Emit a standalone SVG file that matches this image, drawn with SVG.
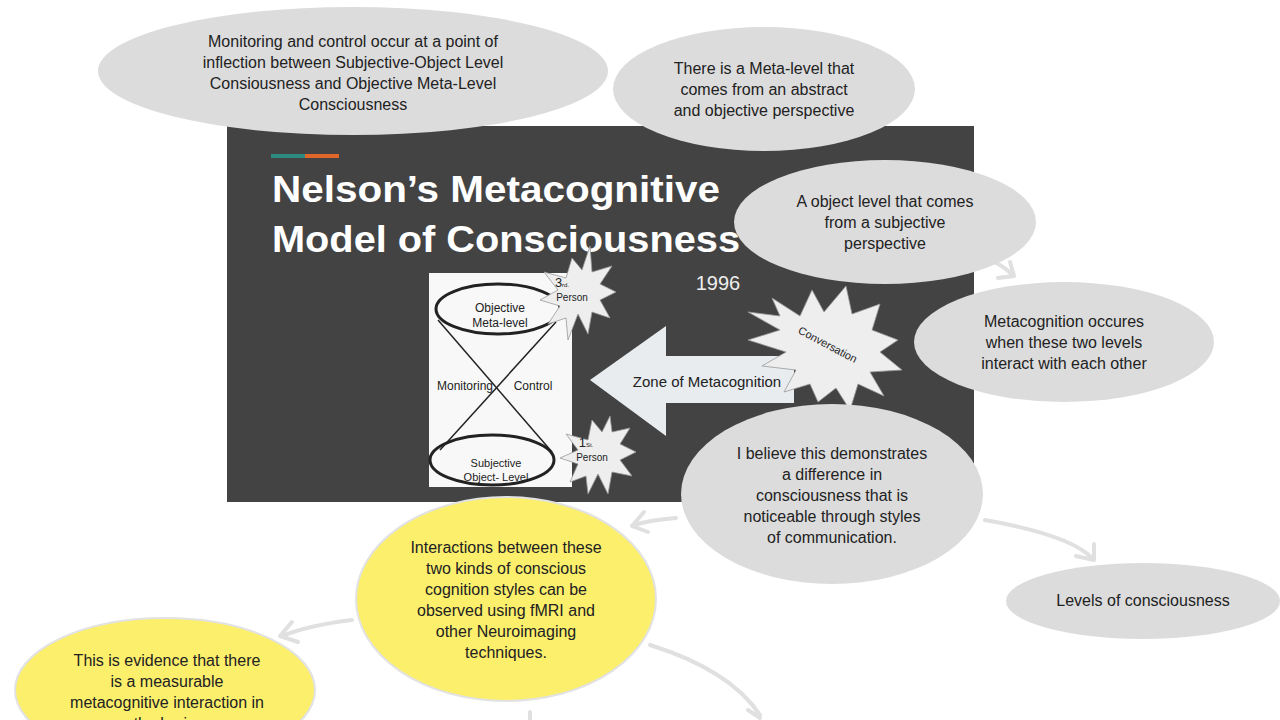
<svg xmlns="http://www.w3.org/2000/svg" width="1280" height="720" viewBox="0 0 1280 720">
<defs>
<style>
text{font-family:"Liberation Sans",Arial,sans-serif;font-size:16px;fill:#222;text-anchor:middle}
.g{fill:#dcdcdc}
.y{fill:#fbef6c;stroke:#e2e2e2;stroke-width:2}
.c{fill:none;stroke:#e0e0e0;stroke-width:4;stroke-linecap:round;stroke-linejoin:round}
.w{fill:#eeeeee;stroke:#999;stroke-width:0.8}
.sm{font-size:12px}
</style>
</defs>
<rect width="1280" height="720" fill="#fff"/>
<g id="slide">
<rect x="227" y="126" width="747" height="376" fill="#434343"/>
<rect x="271" y="154" width="34" height="4" fill="#2e8a7e"/>
<rect x="305" y="154" width="34" height="4" fill="#e0662a"/>
<text x="272" y="202" textLength="448" lengthAdjust="spacingAndGlyphs" style="font-size:37px;font-weight:bold;fill:#fff;text-anchor:start">Nelson’s Metacognitive</text>
<text x="272" y="252" textLength="468" lengthAdjust="spacingAndGlyphs" style="font-size:37px;font-weight:bold;fill:#fff;text-anchor:start">Model of Consciousness</text>
<text x="718" y="290" style="font-size:20px;fill:#eee">1996</text>
<rect x="429" y="273" width="143" height="214" fill="#f8f8f8"/>
<ellipse cx="498" cy="309" rx="62" ry="25" fill="none" stroke="#222" stroke-width="3"/>
<ellipse cx="492" cy="460" rx="62" ry="25" fill="none" stroke="#222" stroke-width="3"/>
<line x1="438" y1="320" x2="552" y2="452" stroke="#222" stroke-width="1.5"/>
<line x1="556" y1="322" x2="440" y2="450" stroke="#222" stroke-width="1.5"/>
<text x="500" y="312" class="sm">Objective</text>
<text x="500" y="327" class="sm">Meta-level</text>
<text x="465" y="390" class="sm">Monitoring</text>
<text x="533" y="390" class="sm">Control</text>
<text x="496" y="467" style="font-size:11px">Subjective</text>
<text x="496" y="481" style="font-size:11px">Object- Level</text>
<polygon class="w" points="572,258 582,270 590,246 592,272 612,266 600,284 616,292 600,300 610,318 592,312 588,334 578,314 568,340 566,318 548,324 560,306 540,300 558,290 544,272 566,278"/>
<text x="562" y="287" style="font-size:13px">3<tspan style="font-size:6px">rd.</tspan></text>
<text x="572" y="301" style="font-size:10px">Person</text>
<polygon class="w" points="592,420 602,432 610,416 612,432 630,428 620,444 636,452 620,460 632,476 612,472 608,494 598,474 588,494 586,476 570,482 578,464 560,458 578,450 566,434 588,440"/>
<text x="586" y="447" style="font-size:13px">1<tspan style="font-size:6px">St.</tspan></text>
<text x="592" y="461" style="font-size:10px">Person</text>
<polygon points="590,380 666,326 666,356 794,356 794,403 666,403 666,436" fill="#e8ecef"/>
<text x="707" y="387" style="font-size:15px">Zone of Metacognition</text>
<polygon class="w" points="772,298 800,316 812,290 824,312 846,286 852,314 880,304 872,330 898,340 880,352 902,370 870,372 884,396 858,384 850,410 836,388 818,402 810,384 784,392 796,370 762,366 786,352 748,340 780,330 748,312 780,316"/>
<text x="826" y="348" transform="rotate(28 826 348)" style="font-size:11px">Conversation</text>
</g>
<g id="connectors">
<path class="c" d="M960,250 Q1000,260 1012,275 M998,278 L1014,276 L1010,262"/>
<path class="c" d="M985,520 Q1070,535 1092,558 M1076,556 L1094,560 L1094,544"/>
<path class="c" d="M676,518 Q650,520 634,525 M644,512 L632,526 L648,532"/>
<path class="c" d="M352,620 Q310,625 282,636 M292,622 L280,636 L298,642"/>
<path class="c" d="M650,645 Q730,670 760,715 M748,710 L760,718"/>
<path class="c" d="M530,712 L530,720"/>
</g>
<g id="n1"><ellipse class="g" cx="353" cy="71" rx="255" ry="64"/>
<text x="353" y="47">Monitoring and control occur at a point of</text>
<text x="353" y="68">inflection between Subjective-Object Level</text>
<text x="353" y="89">Consiousness and Objective Meta-Level</text>
<text x="353" y="110">Consciousness</text></g>
<g id="n2"><ellipse class="g" cx="764" cy="89" rx="151" ry="62"/>
<text x="764" y="74">There is a Meta-level that</text>
<text x="764" y="95">comes from an abstract</text>
<text x="764" y="116">and objective perspective</text></g>
<g id="n3"><ellipse class="g" cx="885" cy="222" rx="151" ry="62"/>
<text x="885" y="207">A object level that comes</text>
<text x="885" y="228">from a subjective</text>
<text x="885" y="249">perspective</text></g>
<g id="n4"><ellipse class="g" cx="1064" cy="342" rx="150" ry="60"/>
<text x="1064" y="327">Metacognition occures</text>
<text x="1064" y="348">when these two levels</text>
<text x="1064" y="369">interact with each other</text></g>
<g id="n5"><ellipse class="g" cx="832" cy="494" rx="151" ry="90"/>
<text x="832" y="459">I believe this demonstrates</text>
<text x="832" y="480">a difference in</text>
<text x="832" y="501">consciousness that is</text>
<text x="832" y="522">noticeable through styles</text>
<text x="832" y="543">of communication.</text></g>
<g id="n6"><ellipse class="g" cx="1143" cy="601" rx="137" ry="38"/>
<text x="1143" y="606">Levels of consciousness</text></g>
<g id="n7"><ellipse class="y" cx="506" cy="599" rx="150" ry="102"/>
<text x="506" y="553">Interactions between these</text>
<text x="506" y="574">two kinds of conscious</text>
<text x="506" y="595">cognition styles can be</text>
<text x="506" y="616">observed using fMRI and</text>
<text x="506" y="637">other Neuroimaging</text>
<text x="506" y="658">techniques.</text></g>
<g id="n8"><ellipse class="y" cx="165" cy="690" rx="150" ry="72"/>
<text x="167" y="666">This is evidence that there</text>
<text x="167" y="687">is a measurable</text>
<text x="167" y="708">metacognitive interaction in</text>
<text x="167" y="729">the brain.</text></g>
</svg>
